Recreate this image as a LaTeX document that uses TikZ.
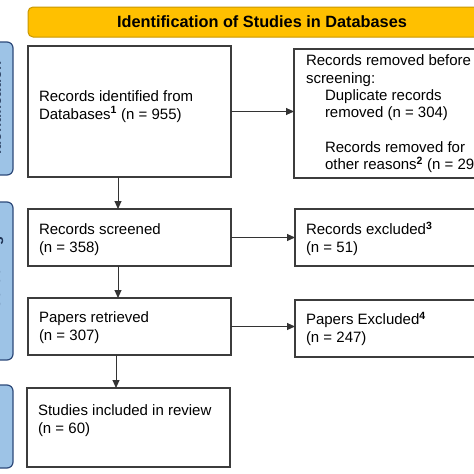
\documentclass[tikz,border=0pt]{standalone}
\usepackage{fontspec}
\setmainfont{Liberation Sans}
\usetikzlibrary{arrows.meta,calc}
\definecolor{banfill}{HTML}{FFC000}
\definecolor{bandraw}{HTML}{C99700}
\definecolor{sidefill}{HTML}{9DC3E6}
\definecolor{sidedraw}{HTML}{2E4A7A}
\definecolor{boxgray}{HTML}{3C3C3C}
\definecolor{arrgray}{HTML}{333333}
\newcommand{\sups}[1]{\smash{\textsuperscript{\textbf{#1}}}}
\begin{document}
\begin{tikzpicture}[x=1pt,y=-1pt,
  flowbox/.style={draw=boxgray,line width=1.3pt,fill=white,inner sep=0pt,outer sep=0pt},
  flowtxt/.style={anchor=north west,inner sep=0pt,outer sep=0pt,align=left,font=\fontsize{15}{17.25}\selectfont},
  sidebox/.style={draw=sidedraw,fill=sidefill,line width=1.2pt,rounded corners=6pt},
  sidetxt/.style={rotate=90,anchor=base,inner sep=0pt,font=\bfseries\fontsize{15}{18}\selectfont,text=sidedraw!70!black},
  arr/.style={draw=arrgray,line width=1pt,-{Triangle[length=8pt,width=7pt]}}]
\useasboundingbox (0,0) rectangle (474,474);
\fill[white] (0,0) rectangle (474,474);

% banner
\draw[draw=bandraw,fill=banfill,line width=1pt,rounded corners=5pt] (28,7) rectangle (500,37);
\node[font=\bfseries\fontsize{16.3}{19}\selectfont,inner sep=0pt] (title) at (262,22) {Identification of Studies in Databases};

% side boxes
\draw[sidebox] (-40,42) rectangle (13,175);
\draw[sidebox] (-40,202) rectangle (13,360);
\draw[sidebox] (-40,385) rectangle (13,468);
\node[sidetxt] (s1) at (1,108) {Identification};
\node[sidetxt] (s2) at (0,273) {Screening};
\node[sidetxt] (s3) at (-0.5,426) {Included};

% boxes
\node[flowbox,minimum width=203pt,minimum height=131pt,anchor=north west] (b1) at (28,46) {};
\node[flowbox,minimum width=206pt,minimum height=129pt,anchor=north west] (r1) at (294,49) {};
\node[flowbox,minimum width=203pt,minimum height=57pt,anchor=north west] (b2) at (28,209) {};
\node[flowbox,minimum width=205pt,minimum height=57pt,anchor=north west] (r2) at (295,209) {};
\node[flowbox,minimum width=203pt,minimum height=57pt,anchor=north west] (b3) at (28,298) {};
\node[flowbox,minimum width=205pt,minimum height=57pt,anchor=north west] (r3) at (295,300) {};
\node[flowbox,minimum width=203pt,minimum height=79pt,anchor=north west] (b4) at (27,388) {};

% texts
\node[flowtxt] (t1) at (39,91) {Records identified from\\Databases\sups{1} (n = 955)};
\node[flowtxt] (tr1) at (306,55) {Records removed before\\screening:\\\hspace*{19pt}Duplicate records\\\hspace*{19pt}removed (n = 304)\\[17.25pt]\hspace*{19pt}Records removed for\\\hspace*{19pt}other reasons\sups{2} (n = 293)};
\node[flowtxt] (t2) at (39,224) {Records screened\\(n = 358)};
\node[flowtxt] (tr2) at (306,224) {Records excluded\sups{3}\\(n = 51)};
\node[flowtxt] (t3) at (39,312) {Papers retrieved\\(n = 307)};
\node[flowtxt] (tr3) at (306,314) {Papers Excluded\sups{4}\\(n = 247)};
\node[flowtxt] (t4) at (38,405) {Studies included in review\\(n = 60)};

% arrows
\draw[arr] (b1.east) -- (b1.east -| r1.west);
\draw[arr] (b2.east) -- (b2.east -| r2.west);
\draw[arr] (b3.east) -- (b3.east -| r3.west);
\draw[arr] ([xshift=90pt]b1.south west) -- ([xshift=90pt]b2.north west);
\draw[arr] ([xshift=90pt]b2.south west) -- ([xshift=90pt]b3.north west);
\draw[arr] ([xshift=88pt]b3.south west) -- ([xshift=89pt]b4.north west);
\end{tikzpicture}
\end{document}
